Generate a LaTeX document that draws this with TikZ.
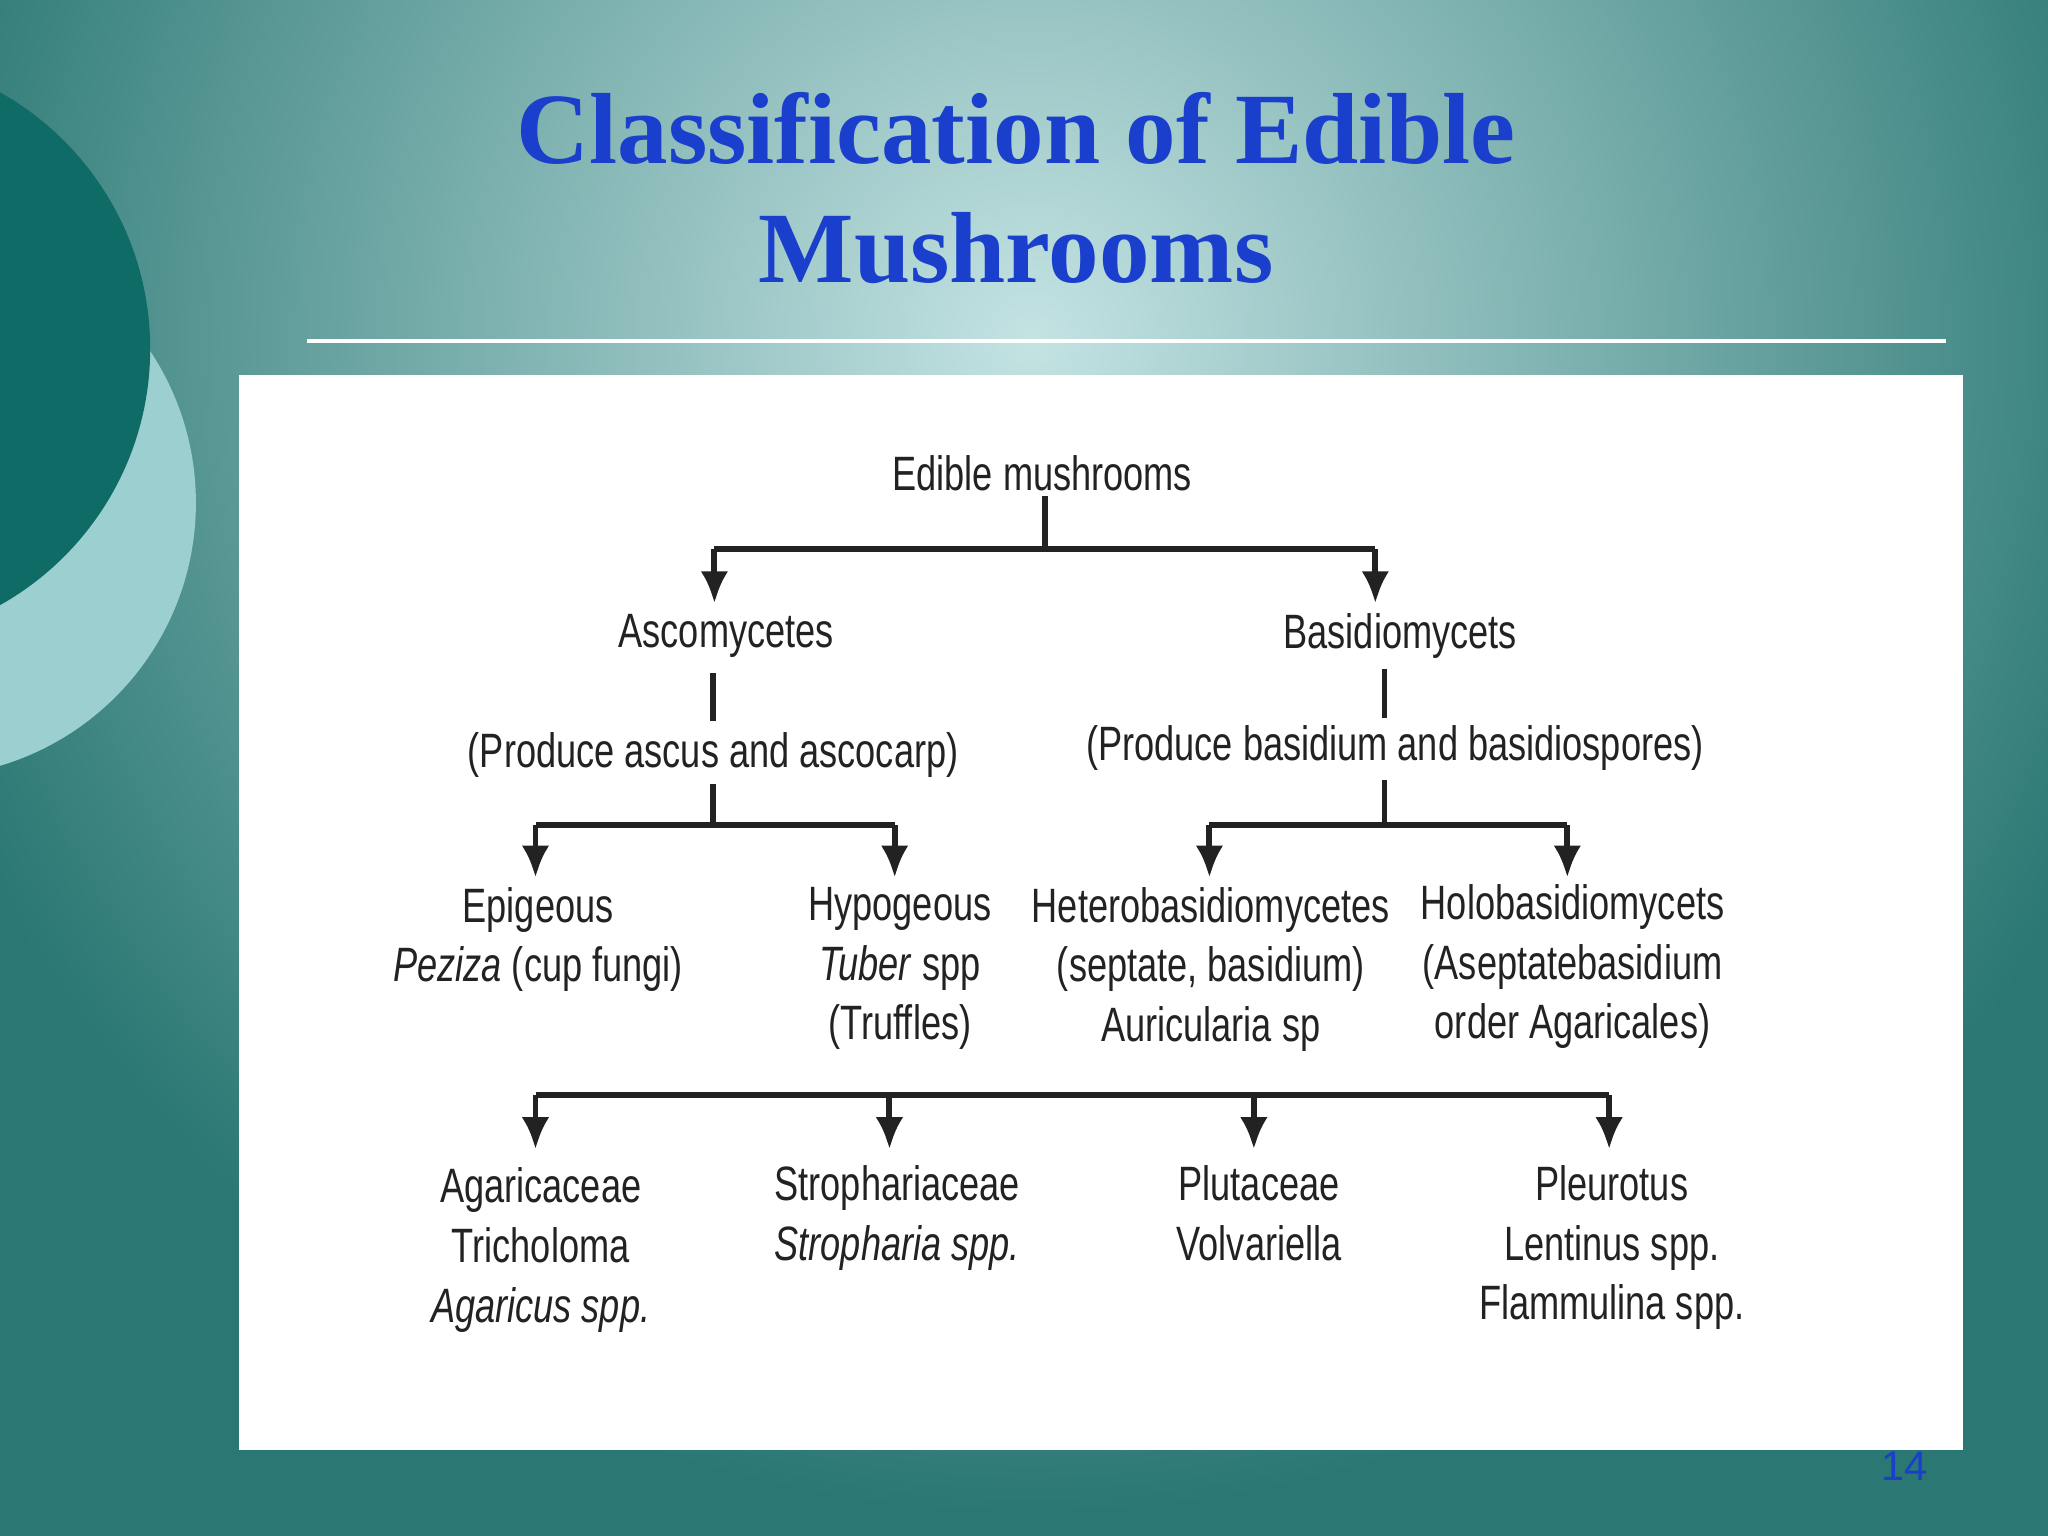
\documentclass[tikz,border=0pt]{standalone}
\usepackage{fontspec}
\setmainfont{Liberation Serif}
\setsansfont{Liberation Sans}
\usetikzlibrary{arrows.meta}
\definecolor{ttl}{HTML}{1A3FCC}
\definecolor{dk}{HTML}{0F6B66}
\definecolor{lt}{HTML}{9CCFCF}
\definecolor{edge}{HTML}{2A7773}
\definecolor{mid}{HTML}{C4E3E3}
\definecolor{txt}{HTML}{222222}
\tikzset{
  lbl/.style={font=\sffamily\fontsize{10.5}{13}\selectfont, align=center, xscale=.75, text=txt, inner sep=1pt},
  ln/.style={line width=1.3pt, draw=txt},
  arr/.style={ln, -{Latex[length=7pt,width=6pt]}}
}
\begin{document}
\begin{tikzpicture}[x=0.01cm,y=-0.01cm]
\useasboundingbox (0,0) rectangle (1568,1176);
\clip (0,0) rectangle (1568,1176);
\fill[edge] (0,0) rectangle (1568,1176);
\shade[inner color=mid, outer color=edge, shading=radial] (790,260) circle (900);
\fill[lt] (-60,385) circle (210);
\fill[dk] (-110,267) circle (225);
\node[font=\bfseries\fontsize{22}{26}\selectfont, text=ttl, align=center] (title) at (778,144) {Classification of Edible\\Mushrooms};
\draw[white, line width=0.8pt] (235,261) -- (1490,261);
\fill[white] (183,287) rectangle (1503,1110);
\node[font=\sffamily\fontsize{9}{10}\selectfont, text=ttl] (pg) at (1458,1123) {14};

\node[lbl] (root) at (798,362) {Edible mushrooms};
\node[lbl] (asc) at (556,487) {Ascomycetes};
\node[lbl] (bas) at (1072,487) {Basidiomycets};
\node[lbl] (pa) at (546,578) {(Produce ascus and ascocarp)};
\node[lbl] (pb) at (1068,573) {(Produce basidium and basidiospores)};
\node[lbl, anchor=north] (epi) at (412,675) {Epigeous\\\textit{Peziza} (cup fungi)};
\node[lbl, anchor=north] (hyp) at (689,675) {Hypogeous\\\textit{Tuber} spp\\(Truffles)};
\node[lbl, anchor=north] (het) at (927,675) {Heterobasidiomycetes\\(septate, basidium)\\Auricularia sp};
\node[lbl, anchor=north] (hol) at (1204,673) {Holobasidiomycets\\(Aseptatebasidium\\order Agaricales)};
\node[lbl, anchor=north] (aga) at (414,890) {Agaricaceae\\Tricholoma\\\textit{Agaricus spp.}};
\node[lbl, anchor=north] (str) at (687,888) {Strophariaceae\\\textit{Stropharia spp.}};
\node[lbl, anchor=north] (plu) at (964,888) {Plutaceae\\Volvariella};
\node[lbl, anchor=north] (ple) at (1234,888) {Pleurotus\\Lentinus spp.\\Flammulina spp.};

\coordinate (j0) at (800,420);
\coordinate (j0l) at (547,420);
\coordinate (j0r) at (1053,420);
\draw[ln] (root.south) ++(2,0) -- (j0);
\draw[ln] (j0l) -- (j0r);
\draw[arr] (j0l) -- (547,462);
\draw[arr] (j0r) -- (1053,462);
\draw[ln] (546,515) -- (546,552);
\draw[ln] (1060,512) -- (1060,550);
\coordinate (ja) at (546,632);
\coordinate (jal) at (410,632);
\coordinate (jar) at (685,632);
\draw[ln] (546,600) -- (ja);
\draw[ln] (jal) -- (jar);
\draw[arr] (jal) -- (410,672);
\draw[arr] (jar) -- (685,672);
\coordinate (jb) at (1060,632);
\coordinate (jbl) at (926,632);
\coordinate (jbr) at (1200,632);
\draw[ln] (1060,597) -- (jb);
\draw[ln] (jbl) -- (jbr);
\draw[arr] (jbl) -- (926,672);
\draw[arr] (jbr) -- (1200,672);
\coordinate (k1) at (410,838);
\coordinate (k2) at (681,838);
\coordinate (k3) at (960,838);
\coordinate (k4) at (1232,838);
\draw[ln] (k1) -- (k4);
\draw[arr] (k1) -- (410,880);
\draw[arr] (k2) -- (681,880);
\draw[arr] (k3) -- (960,880);
\draw[arr] (k4) -- (1232,880);
\end{tikzpicture}
\end{document}
